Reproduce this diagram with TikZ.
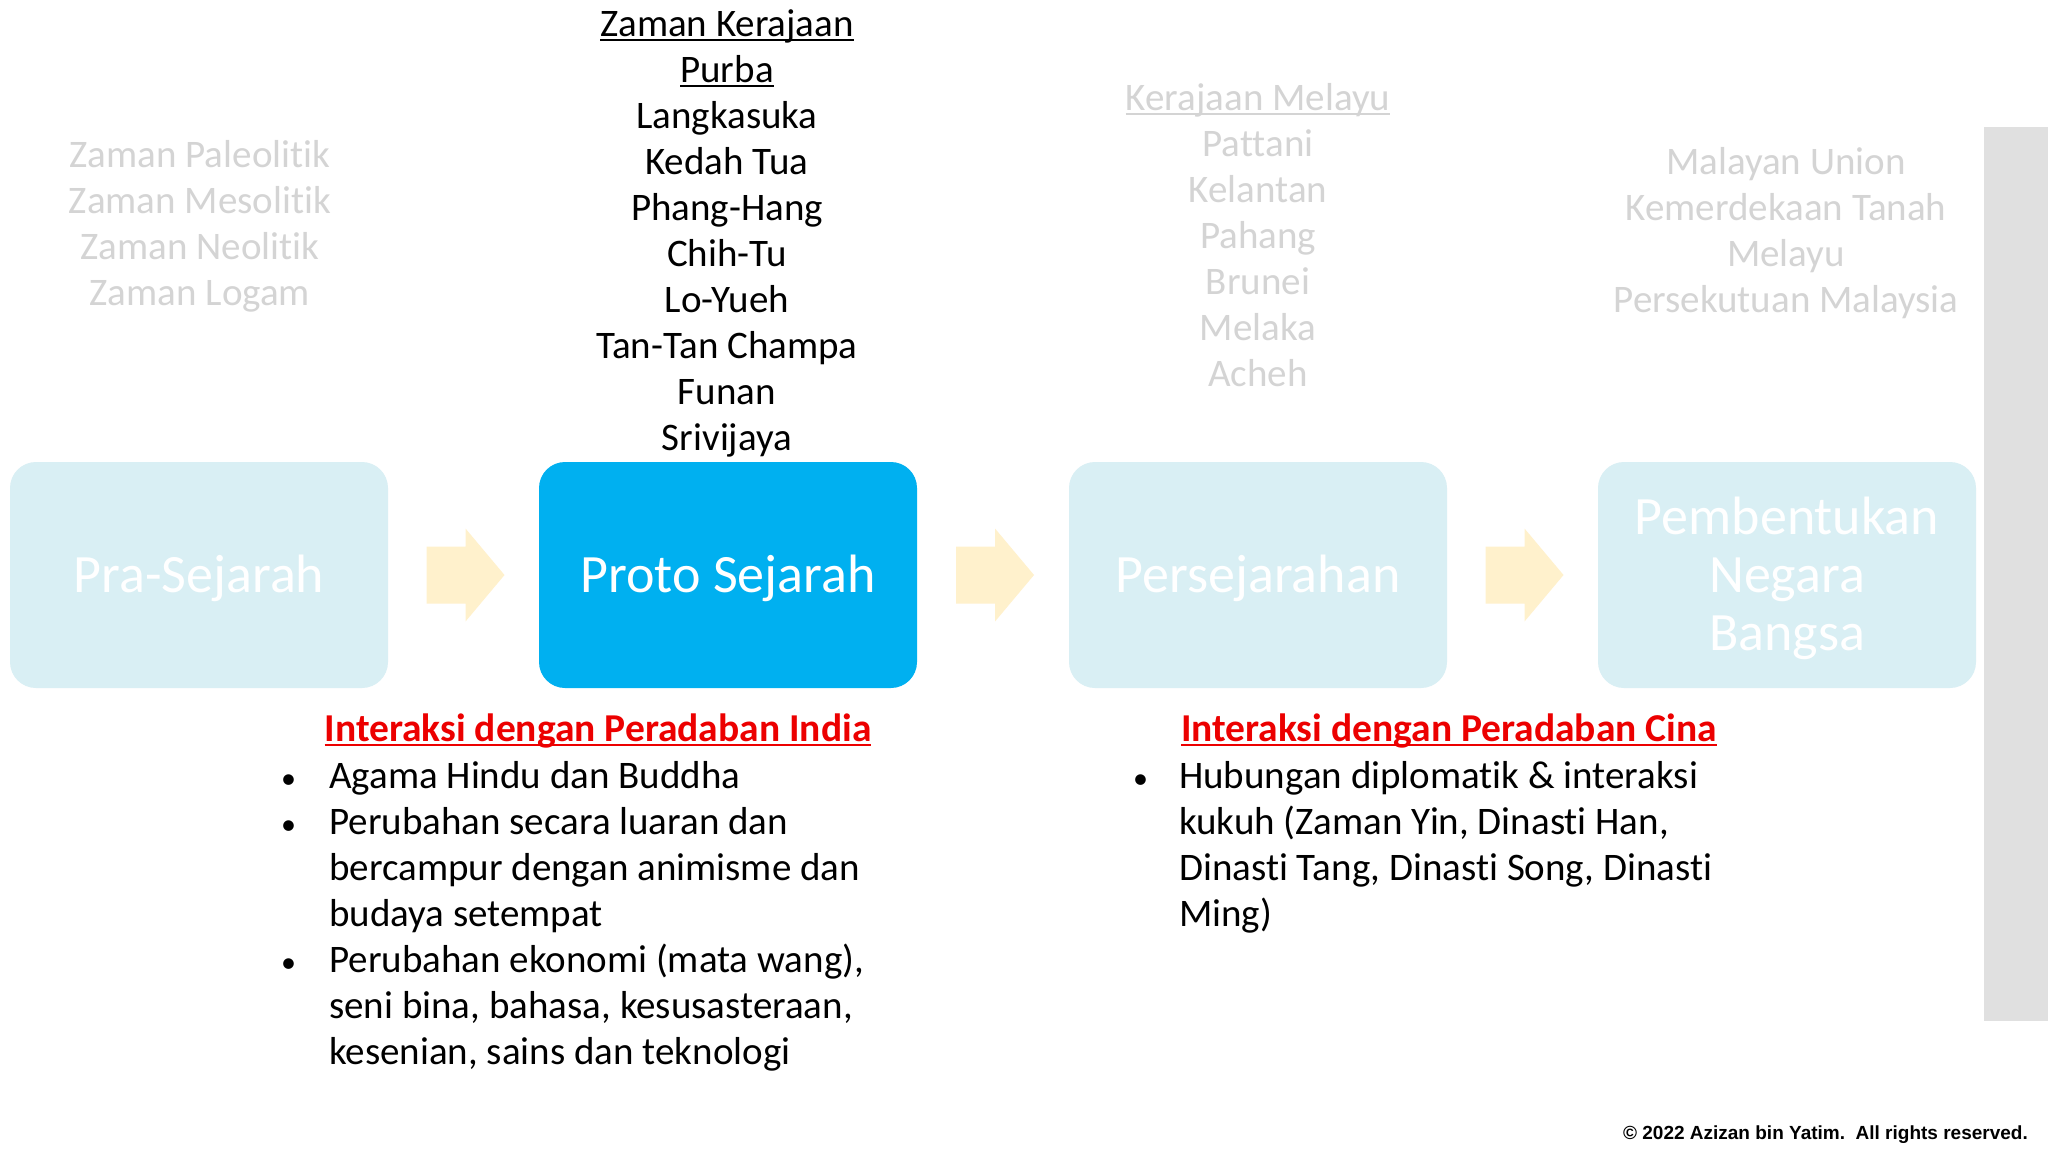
\documentclass[tikz,border=0pt]{standalone}
\usepackage{fontspec}
\setmainfont{Carlito}[RawFeature=-liga]
\newfontfamily\arialfont{Liberation Sans}
\usetikzlibrary{calc}
\newcommand\myul[1]{\setbox0\hbox{#1}\rlap{\rule[-0.12em]{\wd0}{0.055em}}\box0}
\newcommand\mybul{{\fontsize{30}{30}\selectfont\textbullet}}
\definecolor{pale}{RGB}{217,239,244}
\definecolor{proto}{RGB}{0,176,240}
\definecolor{arrowc}{RGB}{255,241,204}
\definecolor{barc}{RGB}{224,224,224}
\definecolor{lightt}{RGB}{212,212,212}
\definecolor{redt}{RGB}{236,0,0}
\begin{document}
\begin{tikzpicture}[x=1pt,y=-1pt,
  stage/.style={rectangle,rounded corners=26pt,minimum width=378pt,minimum height=226pt,inner sep=0pt},
  stagetxt/.style={inner sep=0pt,text=white,align=center,font=\fontsize{54}{58}\selectfont},
  listtxt/.style={align=center,inner sep=0pt,font=\fontsize{39}{46}\selectfont},
  head/.style={inner sep=0pt,text=redt,font=\fontsize{39.5}{46}\selectfont\bfseries},
  body/.style={inner sep=0pt,anchor=base west,font=\fontsize{39}{46}\selectfont},
  chev/.pic={\fill[arrowc] (-39,-28.5) -- (0,-28.5) -- (0,-46.5) -- (39,0) -- (0,46.5) -- (0,28.5) -- (-39,28.5) -- cycle;}
]
\useasboundingbox (0,0) rectangle (2048,1152);
\fill[white] (0,0) rectangle (2048,1152);
\fill[barc] (1984,127) rectangle (2048,1021);

% stage boxes
\node[stage,fill=pale] (pra) at (199,575) {};
\node[stage,fill=proto] (protob) at (728,575) {};
\node[stage,fill=pale] (pers) at (1258,575) {};
\node[stage,fill=pale] (pemb) at (1787,575) {};
\node[stagetxt] (praT) at ([yshift=-3pt]pra.center) {Pra-Sejarah};
\node[stagetxt] (protoT) at ([yshift=-3pt]protob.center) {Proto Sejarah};
\node[stagetxt] (persT) at ([yshift=-3pt]pers.center) {Persejarahan};
\node[stagetxt] (pembT) at ([yshift=-3pt]pemb.center) {Pembentukan\\Negara\\Bangsa};

% block arrows
\coordinate (a1) at ($(pra.east)!0.5!(protob.west)$);
\coordinate (a2) at ($(protob.east)!0.5!(pers.west)$);
\coordinate (a3) at ($(pers.east)!0.5!(pemb.west)$);
\pic at ([xshift=2pt]a1) {chev};
\pic at ([xshift=2pt]a2) {chev};
\pic at ([xshift=2pt]a3) {chev};

% lists above
\node[listtxt,text=lightt] (l1) at (200,226) {Zaman Paleolitik\\Zaman Mesolitik\\Zaman Neolitik\\Zaman Logam};
\node[listtxt,text=black] (l2) at (727,233) {\myul{Zaman Kerajaan}\\\myul{Purba}\\Langkasuka\\Kedah Tua\\Phang-Hang\\Chih-Tu\\Lo-Yueh\\Tan-Tan Champa\\Funan\\Srivijaya};
\node[listtxt,text=lightt] (l3) at (1258,235) {\myul{Kerajaan Melayu}\\Pattani\\Kelantan\\Pahang\\Brunei\\Melaka\\Acheh};
\node[listtxt,text=lightt] (l4) at (1786,233) {Malayan Union\\Kemerdekaan Tanah\\Melayu\\Persekutuan Malaysia};

% bottom headings
\node[head] (h1) at (598,731) {\myul{Interaksi dengan Peradaban India}};
\node[head] (h2) at (1449,731) {\myul{Interaksi dengan Peradaban Cina}};

\node[body] (b1) at (281,788) {\begin{tabular}[t]{@{}p{48pt}@{}l@{}}
\mybul & Agama Hindu dan Buddha\\
\mybul & Perubahan secara luaran dan\\
 & bercampur dengan animisme dan\\
 & budaya setempat\\
\mybul & Perubahan ekonomi (mata wang),\\
 & seni bina, bahasa, kesusasteraan,\\
 & kesenian, sains dan teknologi
\end{tabular}};

\node[body] (b2) at (1133,788) {\begin{tabular}[t]{@{}p{46pt}@{}l@{}}
\mybul & Hubungan diplomatik \& interaksi\\
 & kukuh (Zaman Yin, Dinasti Han,\\
 & Dinasti Tang, Dinasti Song, Dinasti\\
 & Ming)
\end{tabular}};

\node[inner sep=0pt,anchor=base east,font=\arialfont\bfseries\fontsize{19}{22}\selectfont] (copy) at (2028,1139) {\textcopyright{} 2022 Azizan bin Yatim.\ \ All rights reserved.};
\end{tikzpicture}
\end{document}
